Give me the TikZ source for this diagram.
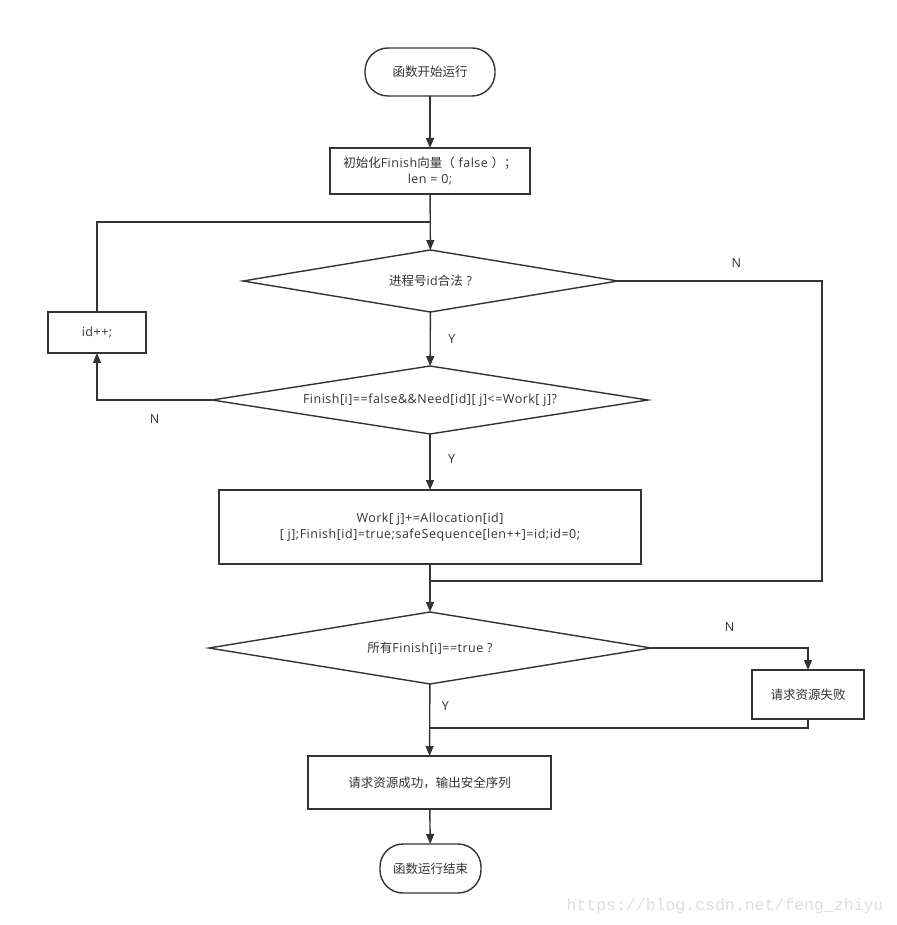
\documentclass[tikz,border=0pt]{standalone}
\usepackage{fontspec}
\setmainfont[LetterSpace=4]{Open Sans}
\newfontfamily\cjk{Noto Sans CJK SC}
\newfontfamily\wmfont{Liberation Mono}
\usetikzlibrary{shapes.geometric,arrows.meta}
\definecolor{ln}{HTML}{333333}
\begin{document}
\begin{tikzpicture}[x=1pt,y=-1pt,
  every node/.style={font=\fontsize{12.5}{15.5}\selectfont, text=ln},
  box/.style={draw=ln, line width=1.4pt, rectangle, inner sep=0pt, outer sep=0pt, align=center},
  term/.style={box, rounded corners=23pt},
  dec/.style={draw=ln, line width=1.4pt, diamond, inner sep=0pt, outer sep=0pt},
  arr/.style={draw=ln, line width=1.4pt, -{Triangle[width=8pt,length=10pt]}},
  lin/.style={draw=ln, line width=1.4pt}]
\useasboundingbox (0,0) rectangle (896,925);
\fill[white] (0,0) rectangle (896,925);

\node[term, minimum width=130pt, minimum height=48pt] (start) at (430,72) {\cjk 函数开始运行};
\node[box, minimum width=200pt, minimum height=46pt] (init) at (430,171) {{\cjk 初始化}Finish{\cjk 向量（} false {\cjk ）；}\\len = 0;};
\node[dec, minimum width=375pt, minimum height=62pt, aspect=6] (d1) at (430.5,281) {{\cjk 进程号}id{\cjk 合法} ?};
\node[box, minimum width=98pt, minimum height=41pt] (idpp) at (97,332.5) {id++;};
\node[dec, minimum width=436pt, minimum height=68pt, aspect=6.4] (d2) at (430,400) {Finish[i]==false\&\&Need[id][ j]<=Work[ j]?};
\node[box, minimum width=422pt, minimum height=74pt] (upd) at (430,527) {Work[ j]+=Allocation[id]\\{}[ j];Finish[id]=true;safeSequence[len++]=id;id=0;};
\node[dec, minimum width=442pt, minimum height=72pt, aspect=6.1] (d3) at (430,648) {{\cjk 所有}Finish[i]==true ?};
\node[box, minimum width=112pt, minimum height=49pt] (fail) at (808,694.5) {\cjk 请求资源失败};
\node[box, minimum width=243pt, minimum height=53pt] (succ) at (429.5,782.5) {\cjk 请求资源成功，输出安全序列};
\node[term, minimum width=101pt, minimum height=49pt] (end) at (430.5,868.5) {\cjk 函数运行结束};

\coordinate (j1) at (430,222);
\coordinate (j2) at (430,581);
\coordinate (j3) at (430,728);

\draw[arr] (start) -- (init);
\draw[arr] (init) -- (d1);
\draw[lin] (idpp.north) |- (j1);
\draw[lin] (d1.east) -- node[above=9pt, pos=0.58]{N} ++(204,0) |- (j2);
\draw[arr] (d1) -- node[right=14pt]{Y} (d2);
\draw[arr] (d2.west) -- node[below=11pt]{N} (idpp.south |- d2.west) -- (idpp.south);
\draw[arr] (d2) -- node[right=14pt, pos=0.45]{Y} (upd);
\draw[arr] (upd) -- (d3);
\draw[arr] (d3.east) -- node[above=12pt]{N} (fail.north |- d3.east) -- (fail.north);
\draw[arr] (d3) -- node[right=8pt, pos=0.3]{Y} (succ);
\draw[lin] (fail.south) |- (j3);
\draw[arr] (succ) -- (end);

\node[font=\wmfont\fontsize{16.5}{18}\selectfont, text=black!13] (wm) at (725,906) {https://blog.csdn.net/feng\_zhiyu};
\end{tikzpicture}
\end{document}
